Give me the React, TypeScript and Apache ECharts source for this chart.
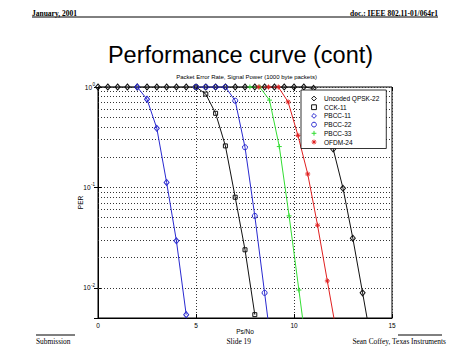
import React, { useEffect, useRef } from "react";
import * as echarts from "echarts";

// ---- data ----
const uncodedX = [0, 0.5, 1, 1.5, 2, 2.5, 3, 3.5, 4, 4.5, 5, 5.5, 6, 6.5, 7, 7.5, 8, 8.5, 9, 9.5, 10, 10.5, 11, 11.5, 12, 12.5, 13, 13.5, 14];
const uncodedY = [1, 1, 1, 1, 1, 1, 1, 1, 1, 1, 1, 1, 1, 1, 1, 1, 1, 1, 1, 1, 1, 1, 0.97, 0.68, 0.241, 0.098, 0.0312, 0.0089, 0.0025];

const cckX = [5, 5.5, 6, 6.5, 7, 7.5, 8];
const cckY = [1, 0.85, 0.547, 0.259, 0.0798, 0.0239, 0.0054];

const pbcc11X = [2, 2.5, 3, 3.5, 4, 4.5];
const pbcc11Y = [1, 0.755, 0.388, 0.112, 0.0294, 0.0054];

const pbcc22X = [5, 5.5, 6, 6.5, 7, 7.5, 8, 8.5, 9];
const pbcc22Y = [1, 1, 1, 1, 0.73, 0.251, 0.052, 0.0089, 0.0015];

const pbcc33X = [7.75, 8.25, 8.75, 9.25, 9.75, 10.25, 10.75];
const pbcc33Y = [1, 1, 0.74, 0.255, 0.052, 0.0095, 0.0017];

const ofdmX = [8.2, 8.7, 9.2, 9.7, 10.2, 10.7, 11.2, 11.7, 12.2];
const ofdmY = [1, 1, 1, 0.71, 0.33, 0.136, 0.042, 0.0117, 0.0033];

const seriesNames = ["Uncoded QPSK-22", "CCK-11", "PBCC-11", "PBCC-22", "PBCC-33", "OFDM-24"];
const xTicks = [0, 5, 10, 15];
const minorGrid = [0.006, 0.007, 0.008, 0.009, 0.02, 0.03, 0.04, 0.05, 0.06, 0.07, 0.08, 0.09, 0.2, 0.3, 0.4, 0.5, 0.6, 0.7, 0.8, 0.9];

const SANS = '"Liberation Sans", Arial, sans-serif';
const SERIF = '"Liberation Serif", "Times New Roman", serif';

const plusPath = "path://M5,0L5,10M0,5L10,5";
const starPath = "path://M5,0L5,10M0,5L10,5M1.6,1.6L8.4,8.4M8.4,1.6L1.6,8.4";

function mk(name: string, xs: number[], ys: number[], color: string, symbol: string, size: number | number[]) {
  return {
    name,
    type: "line",
    data: xs.map((x, i) => [x, ys[i]]),
    symbol,
    symbolSize: size,
    showSymbol: true,
    clip: true,
    lineStyle: { color, width: 1 },
    itemStyle: { color: "rgba(0,0,0,0)", borderColor: color, borderWidth: 1 },
    emphasis: { disabled: true },
    z: 3,
  };
}

export default function App() {
  const ref = useRef<HTMLDivElement>(null);
  useEffect(() => {
    if (!ref.current) return;
    const chart = echarts.init(ref.current, undefined, { renderer: "svg" });
    const dotted = { color: "#333", width: 1, type: [1, 2] as any };
    const option: any = {
      animation: false,
      backgroundColor: "#fff",
      grid: { left: 98, right: 82, top: 87, bottom: 37, show: true, borderColor: "#000", borderWidth: 1, backgroundColor: "transparent" },
      xAxis: [
        {
          type: "value",
          min: xTicks[0],
          max: xTicks[xTicks.length - 1],
          interval: 5,
          name: "Ps/No",
          nameLocation: "middle",
          nameGap: 10,
          nameMoveOverlap: false,
          nameTextStyle: { fontFamily: SANS, fontSize: 6.5, color: "#000" },
          axisLine: { show: true, lineStyle: { color: "#000", width: 1 } },
          axisTick: { show: true, inside: true, length: 4, lineStyle: { color: "#000" } },
          axisLabel: { fontFamily: SANS, fontSize: 6.5, color: "#000", margin: 4 },
          splitLine: { show: true, lineStyle: dotted },
        },
        {
          type: "value",
          position: "top",
          min: xTicks[0],
          max: xTicks[xTicks.length - 1],
          interval: 5,
          axisLine: { show: false },
          axisTick: { show: true, inside: true, length: 4, lineStyle: { color: "#000" } },
          axisLabel: { show: false },
          splitLine: { show: false },
        },
      ],
      yAxis: [
        {
          type: "log",
          logBase: 10,
          min: 0.005,
          max: 1,
          name: "PER",
          nameLocation: "middle",
          nameGap: 14,
          nameMoveOverlap: false,
          nameTextStyle: { fontFamily: SANS, fontSize: 6.5, color: "#000" },
          axisLine: { show: true, lineStyle: { color: "#000", width: 1 } },
          axisTick: { show: true, inside: true, length: 4, lineStyle: { color: "#000" } },
          axisLabel: {
            showMinLabel: false,
            margin: 3,
            formatter: (v: number) => {
              const e = Math.round(Math.log10(v));
              if (Math.abs(Math.log10(v) - e) > 1e-6) return "";
              return `{b|10}{s|${e}}`;
            },
            rich: {
              b: { fontFamily: SANS, fontSize: 6.5, color: "#000" },
              s: { fontFamily: SANS, fontSize: 4.5, color: "#000", padding: [0, 0, 5, 0.5] },
            },
          },
          splitLine: { show: true, lineStyle: dotted },
        },
        {
          type: "log",
          logBase: 10,
          min: 0.005,
          max: 1,
          position: "right",
          axisLine: { show: false },
          axisTick: { show: true, inside: true, length: 4, lineStyle: { color: "#000" } },
          axisLabel: { show: false },
          splitLine: { show: false },
        },
      ],
      legend: {
        orient: "vertical",
        left: 301,
        top: 90,
        padding: [5, 7, 3, 8],
        backgroundColor: "#fff",
        borderColor: "#000",
        borderWidth: 0.8,
        borderRadius: 0,
        itemWidth: 10,
        itemHeight: 6,
        itemGap: 1.7,
        textStyle: { fontFamily: SANS, fontSize: 6.5, color: "#000", lineHeight: 6 },
        itemStyle: { borderWidth: 1 },
        lineStyle: { width: 0, opacity: 0 },
        data: seriesNames,
        selectedMode: false,
        z: 10,
      },
      graphic: [
        { type: "text", x: 32, y: 13, style: { text: "January, 2001", font: `bold 7.5px ${SERIF}`, fill: "#000", textAlign: "left", textVerticalAlign: "middle" } },
        { type: "text", x: 438, y: 13, style: { text: "doc.: IEEE 802.11-01/064r1", font: `bold 7.5px ${SERIF}`, fill: "#000", textAlign: "right", textVerticalAlign: "middle" } },
        { type: "line", shape: { x1: 32, y1: 17, x2: 438, y2: 17 }, style: { stroke: "#000", lineWidth: 1 } },
        { type: "text", x: 240.5, y: 55, style: { text: "Performance curve (cont)", font: `23.5px ${SANS}`, fill: "#000", textAlign: "center", textVerticalAlign: "middle" } },
        { type: "text", x: 246.5, y: 77, style: { text: "Packet Error Rate, Signal Power (1000 byte packets)", font: `6px ${SANS}`, fill: "#000", textAlign: "center", textVerticalAlign: "middle" } },
        { type: "line", shape: { x1: 36, y1: 335, x2: 75, y2: 335 }, style: { stroke: "#000", lineWidth: 1 } },
        { type: "line", shape: { x1: 398, y1: 335, x2: 442, y2: 335 }, style: { stroke: "#000", lineWidth: 1 } },
        { type: "text", x: 36, y: 341, style: { text: "Submission", font: `7.4px ${SERIF}`, fill: "#000", textAlign: "left", textVerticalAlign: "middle" } },
        { type: "text", x: 238.7, y: 341.5, style: { text: "Slide 19", font: `7.4px ${SERIF}`, fill: "#000", textAlign: "center", textVerticalAlign: "middle" } },
        { type: "text", x: 446, y: 341, style: { text: "Sean Coffey, Texas Instruments", font: `7.4px ${SERIF}`, fill: "#000", textAlign: "right", textVerticalAlign: "middle" } },
      ],
      series: [
        {
          name: "grid-minor",
          type: "line",
          data: [],
          silent: true,
          z: 1,
          markLine: {
            silent: true,
            symbol: ["none", "none"],
            label: { show: false },
            z: 1,
            lineStyle: { color: "#333", width: 1, type: [1, 2] },
            emphasis: { disabled: true },
            data: minorGrid.map((v) => ({ yAxis: v })),
          },
        },
        mk(seriesNames[0], uncodedX, uncodedY, "#111", "diamond", [5, 6]),
        mk(seriesNames[1], cckX, cckY, "#111", "rect", 4),
        mk(seriesNames[2], pbcc11X, pbcc11Y, "#2a2ad0", "diamond", [5, 6]),
        mk(seriesNames[3], pbcc22X, pbcc22Y, "#2a2ad0", "circle", 5),
        mk(seriesNames[4], pbcc33X, pbcc33Y, "#33dd33", plusPath, 5),
        mk(seriesNames[5], ofdmX, ofdmY, "#e02020", starPath, 5),
      ],
    };
    chart.setOption(option);
    return () => chart.dispose();
  }, []);
  return (
    <div
      ref={ref}
      style={{ position: "absolute", left: 0, top: 0, width: 474, height: 355, background: "#fff" }}
    />
  );
}
